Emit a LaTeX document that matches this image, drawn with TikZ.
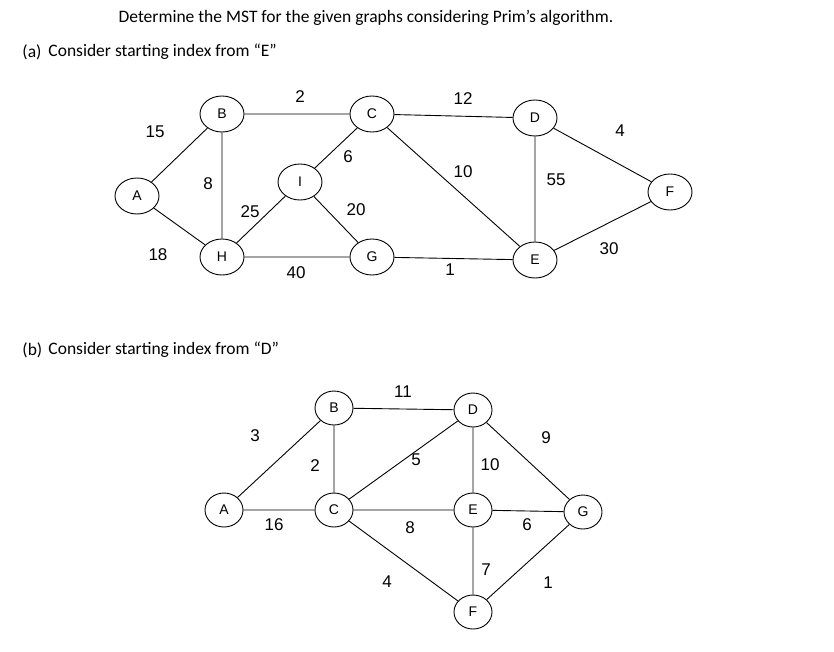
\documentclass[tikz,border=0pt]{standalone}
\usepackage{fontspec}
\setmainfont{Carlito}
\newfontfamily\lab{Liberation Sans}
\usetikzlibrary{shapes.geometric}
\begin{document}
\begin{tikzpicture}[x=1pt,y=-1pt,line width=0.9pt,
 va/.style={draw,ellipse,minimum width=44pt,minimum height=36pt,inner sep=0pt,font=\lab\fontsize{14}{14}\selectfont},
 vb/.style={draw,ellipse,minimum width=38pt,minimum height=34pt,inner sep=0pt,font=\lab\fontsize{14}{14}\selectfont},
 wl/.style={font=\lab\fontsize{17}{17}\selectfont,inner sep=0pt},
 tx/.style={font=\fontsize{17.5}{17.5}\selectfont,inner sep=0pt}]
\useasboundingbox (0,0) rectangle (834,651);
\node[tx] (t) at (366,18) {Determine the MST for the given graphs considering Prim’s algorithm.};
\node[tx,anchor=west] (ta) at (22,52) {(a)};
\node[tx,anchor=west] (ta2) at (48,52) {Consider starting index from “E”};
\node[tx,anchor=west] (tb) at (22,350) {(b)};
\node[tx,anchor=west] (tb2) at (48,350) {Consider starting index from “D”};
% graph a
\node[va] (B) at (222,114) {B};
\node[va] (C) at (372,114) {C};
\node[va] (D) at (535,118) {D};
\node[va] (A) at (137,196) {A};
\node[va] (I) at (300,182) {I};
\node[va] (F) at (670,192) {F};
\node[va] (H) at (222,257) {H};
\node[va] (G) at (372,257) {G};
\node[va] (E) at (535,260) {E};
\draw (A)--(B) (B)--(C) (C)--(D) (D)--(F) (A)--(H) (B)--(H) (H)--(I) (I)--(C) (I)--(G) (H)--(G) (C)--(E) (D)--(E) (G)--(E) (E)--(F);
\node[wl] (w1) at (155,132) {15};
\node[wl] (w2) at (300,97) {2};
\node[wl] (w3) at (463,99) {12};
\node[wl] (w4) at (620,131) {4};
\node[wl] (w5) at (158,255) {18};
\node[wl] (w6) at (208,184) {8};
\node[wl] (w7) at (250,212) {25};
\node[wl] (w8) at (348,157) {6};
\node[wl] (w9) at (356,210) {20};
\node[wl] (w10) at (296,273) {40};
\node[wl] (w11) at (463,172) {10};
\node[wl] (w12) at (556,180) {55};
\node[wl] (w13) at (450,270) {1};
\node[wl] (w14) at (609,249) {30};
% graph b
\node[vb] (b) at (334,408) {B};
\node[vb] (d) at (473,410) {D};
\node[vb] (a) at (224,510) {A};
\node[vb] (c) at (334,510) {C};
\node[vb] (e) at (473,510) {E};
\node[vb] (g) at (583,512) {G};
\node[vb] (f) at (473,612) {F};
\draw (a)--(b) (b)--(d) (b)--(c) (c)--(d) (d)--(e) (d)--(g) (a)--(c) (c)--(e) (e)--(g) (c)--(f) (e)--(f) (f)--(g);
\node[wl] (x1) at (255,436) {3};
\node[wl] (x2) at (403,392) {11};
\node[wl] (x3) at (315,466) {2};
\node[wl] (x4) at (416,460) {5};
\node[wl] (x5) at (490,465) {10};
\node[wl] (x6) at (546,438) {9};
\node[wl] (x7) at (274,525) {16};
\node[wl] (x8) at (410,528) {8};
\node[wl] (x9) at (527,525) {6};
\node[wl] (x10) at (387,582) {4};
\node[wl] (x11) at (486,570) {7};
\node[wl] (x12) at (548,583) {1};
\end{tikzpicture}
\end{document}
